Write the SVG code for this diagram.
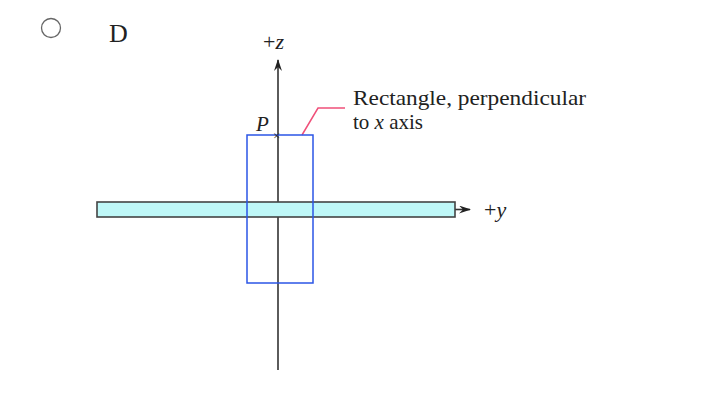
<svg xmlns="http://www.w3.org/2000/svg" width="718" height="410" viewBox="0 0 718 410">
<style>text{font-family:"Liberation Serif",serif;fill:#222}</style>
<defs><marker id="ah" markerWidth="12" markerHeight="8" refX="11" refY="4" orient="auto" markerUnits="userSpaceOnUse"><path d="M0,0 L12,4 L0,8 L4,4 Z" fill="#222"/></marker></defs>
<rect width="718" height="410" fill="#fff"/>
<circle cx="51" cy="28" r="9.5" fill="#fff" stroke="#666" stroke-width="1.3"/>
<text x="109" y="42" font-size="26">D</text>
<g id="connectors" stroke="#333" stroke-width="1.6" fill="none">
<line id="zaxis" x1="278" y1="370" x2="278" y2="60" marker-end="url(#ah)"/>
<line id="yaxis" x1="455" y1="209.5" x2="470" y2="209.5" marker-end="url(#ah)"/>
<polyline points="302,135 318,108 345,108" stroke="#f0507a" stroke-width="1.5"/>
</g>
<g id="bar"><rect x="97" y="202" width="358" height="15" fill="#bff8f8" stroke="#444" stroke-width="1.6"/></g>
<g id="rectangle"><rect x="247" y="135" width="66" height="148" fill="none" stroke="#2b55e6" stroke-width="1.5"/></g>
<g id="labels" font-size="21">
<text x="263" y="49" font-size="22">+<tspan font-style="italic">z</tspan></text>
<text x="256" y="131" font-style="italic" font-size="21">P</text>
<text x="273" y="140" font-size="13">×</text>
<text x="353" y="105" textLength="233" lengthAdjust="spacingAndGlyphs">Rectangle, perpendicular</text>
<text x="353" y="129">to <tspan font-style="italic">x</tspan> axis</text>
<text x="484" y="217" font-size="22">+<tspan font-style="italic">y</tspan></text>
</g>
</svg>
